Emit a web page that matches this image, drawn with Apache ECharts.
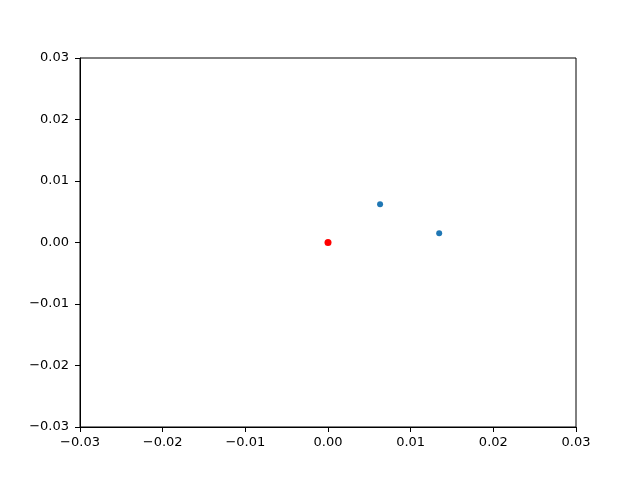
<!DOCTYPE html>
<html><head><meta charset="utf-8">
<script src="https://cdn.jsdelivr.net/npm/echarts@6/dist/echarts.min.js"></script>
<style>html,body{margin:0;padding:0;background:#fff}#c{width:640px;height:480px}</style>
</head><body><div id="c"></div>
<script>
const bluePoints = [[0.0063, 0.0062], [0.01345, 0.0015]];
const redPoints = [[0.0, 0.0]];
const tickMin = -0.03, tickMax = 0.03, tickStep = 0.01;
const fmt = v => v.toFixed(2).replace('-', '\u2212');
const chart = echarts.init(document.getElementById('c'));
const axisCommon = {
  min: tickMin, max: tickMax, interval: tickStep,
  axisLine: {show: true, onZero: false, lineStyle: {color: '#000', width: 1}},
  axisTick: {show: true, length: 5, inside: false, lineStyle: {color: '#000'}},
  splitLine: {show: false}
};
const lbl = m => ({color: '#000', fontFamily: 'DejaVu Sans', fontSize: 13, formatter: fmt, margin: m});
chart.setOption({
  animation: false,
  grid: {left: 80, right: 64, top: 58, bottom: 53, show: true, borderColor: '#000', borderWidth: 1},
  xAxis: Object.assign({type: 'value', position: 'bottom'}, axisCommon, {axisLabel: lbl(9)}),
  yAxis: Object.assign({type: 'value', position: 'left'}, axisCommon, {axisLabel: lbl(11)}),
  series: [
    {type: 'scatter', data: bluePoints, symbolSize: 6, itemStyle: {color: '#1f77b4', opacity: 1}},
    {type: 'scatter', data: redPoints, symbolSize: 7, itemStyle: {color: '#ff0000', opacity: 1}}
  ]
});
</script></body></html>
